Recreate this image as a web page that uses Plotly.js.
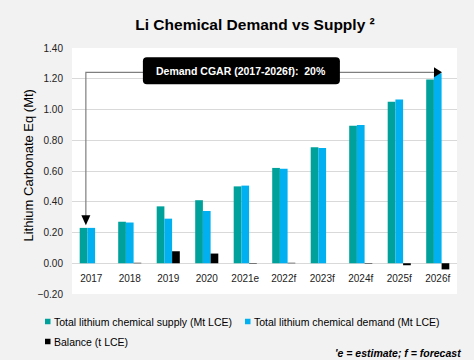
<!DOCTYPE html>
<html>
<head>
<meta charset="utf-8">
<script src="https://cdn.plot.ly/plotly-3.0.1.min.js"></script>
<style>html,body{margin:0;padding:0;background:#f2f2f2;}#chart{width:474px;height:360px;}</style>
</head>
<body>
<div id="chart"></div>
<script>
// ---- data ----
const years = ['2017','2018','2019','2020','2021e','2022f','2023f','2024f','2025f','2026f'];
const supply = [0.23, 0.27, 0.37, 0.41, 0.50, 0.62, 0.755, 0.895, 1.05, 1.195];
const demand = [0.23, 0.265, 0.29, 0.34, 0.505, 0.615, 0.75, 0.90, 1.065, 1.235];
const balance = [0, 0.003, 0.078, 0.063, -0.003, 0.003, 0, -0.003, -0.013, -0.04];
const yTicks = [-0.2, 0, 0.2, 0.4, 0.6, 0.8, 1.0, 1.2, 1.4];
const seriesNames = ['Total lithium chemical supply (Mt LCE)', 'Total lithium chemical demand (Mt LCE)', 'Balance (t LCE)'];
const colors = ['#00a19a', '#00b0f0', '#000000'];

const FONT = 'Liberation Sans, Arial, Helvetica, sans-serif';
const L = 72, R = 17, T = 48, B = 66, W = 474, H = 360;
const pw = W - L - R, ph = H - T - B;
const px2x = p => (p - L) / pw;
const py2y = p => (H - B - p) / ph;

const traces = [supply, demand, balance].map((v, i) => ({
  type: 'bar', x: years, y: v, name: seriesNames[i],
  marker: {color: colors[i]}, showlegend: false, hoverinfo: 'x+y'
}));

// arrow connector positions (category index units / data units)
const xStart = -0.14, xEnd = 9.11, yTop = 1.242, yTip = 0.247;

const shapes = [
  {type: 'path', xref: 'x', yref: 'y',
   path: `M${xStart},${yTip + 0.06} L${xStart},${yTop} L${xEnd - 0.15},${yTop}`,
   line: {color: '#7f7f7f', width: 1.2}},
  // down arrowhead
  {type: 'path', xref: 'x', yref: 'y', xsizemode: 'pixel', ysizemode: 'pixel',
   xanchor: xStart, yanchor: yTip, path: 'M-4.5,10 L4.5,10 L0,0 Z',
   fillcolor: '#000', line: {width: 0}},
  // right arrowhead
  {type: 'path', xref: 'x', yref: 'y', xsizemode: 'pixel', ysizemode: 'pixel',
   xanchor: xEnd, yanchor: yTop, path: 'M-8,5 L-8,-5 L0,0 Z',
   fillcolor: '#000', line: {width: 0}},
  // rounded black box
  {type: 'path', xref: 'x', yref: 'y', xsizemode: 'pixel', ysizemode: 'pixel',
   xanchor: 3.90, yanchor: 1.252,
   path: 'M-94.5,13.5 L94.5,13.5 Q98.5,13.5 98.5,9.5 L98.5,-9.5 Q98.5,-13.5 94.5,-13.5 L-94.5,-13.5 Q-98.5,-13.5 -98.5,-9.5 L-98.5,9.5 Q-98.5,13.5 -94.5,13.5 Z',
   fillcolor: '#000', line: {width: 0}}
];

// legend squares
const legendPos = [[45, 321.5], [245, 321.5], [45, 341.5]];
legendPos.forEach((p, i) => {
  shapes.push({type: 'rect', xref: 'paper', yref: 'paper',
    x0: px2x(p[0]), x1: px2x(p[0] + 5.5), y0: py2y(p[1] + 2.75), y1: py2y(p[1] - 2.75),
    fillcolor: colors[i], line: {width: 0}});
});

const annotations = [
  {xref: 'x', yref: 'y', x: 3.90, y: 1.252, text: '<b>Demand CGAR (2017-2026f):  20%</b>',
   showarrow: false, font: {family: FONT, size: 10.5, color: '#ffffff'}},
  {xref: 'paper', yref: 'paper', x: px2x(463), y: py2y(352.5), xanchor: 'right', yanchor: 'middle',
   text: "<b><i>'e = estimate; f = forecast</i></b>", showarrow: false,
   font: {family: FONT, size: 10.5, color: '#000'}},
  // y-axis title
  {xref: 'paper', yref: 'paper', x: px2x(27.5), y: py2y(166), xanchor: 'center', yanchor: 'middle',
   textangle: -90, text: 'Lithium Carbonate Eq (Mt)', showarrow: false,
   font: {family: FONT, size: 13, color: '#000'}}
];
legendPos.forEach((p, i) => {
  annotations.push({xref: 'paper', yref: 'paper', x: px2x(p[0] + 7), y: py2y(p[1]),
    xanchor: 'left', yanchor: 'middle', text: seriesNames[i], showarrow: false,
    font: {family: FONT, size: 10.5, color: '#000'}});
});

const layout = {
  width: W, height: H,
  margin: {l: L, r: R, t: T, b: B, pad: 0},
  paper_bgcolor: '#f2f2f2', plot_bgcolor: '#ffffff',
  font: {family: FONT, size: 10, color: '#222'},
  title: {text: '<b>Li Chemical Demand vs Supply ²</b>', font: {family: FONT, size: 15.5, color: '#000'},
          x: 255 / W, xanchor: 'center', xref: 'container', y: 1 - 25 / H, yanchor: 'middle', yref: 'container'},
  barmode: 'group', bargap: 0.4, bargroupgap: 0,
  xaxis: {type: 'category', anchor: 'free', position: 0.125, showgrid: false, showline: false,
          ticks: '', ticklabelstandoff: 8, tickfont: {family: FONT, size: 10, color: '#222'},
          fixedrange: true},
  yaxis: {range: [-0.2, 1.4], tickvals: yTicks, tickformat: '.2f', showgrid: true,
          gridcolor: '#d9d9d9', gridwidth: 1, zeroline: true, zerolinecolor: '#d9d9d9', zerolinewidth: 1,
          showline: false, ticks: '', ticklabelstandoff: 8,
          tickfont: {family: FONT, size: 10, color: '#222'}},
  shapes: shapes,
  annotations: annotations
};

Plotly.newPlot('chart', traces, layout, {displayModeBar: false, staticPlot: true});
</script>
</body>
</html>
